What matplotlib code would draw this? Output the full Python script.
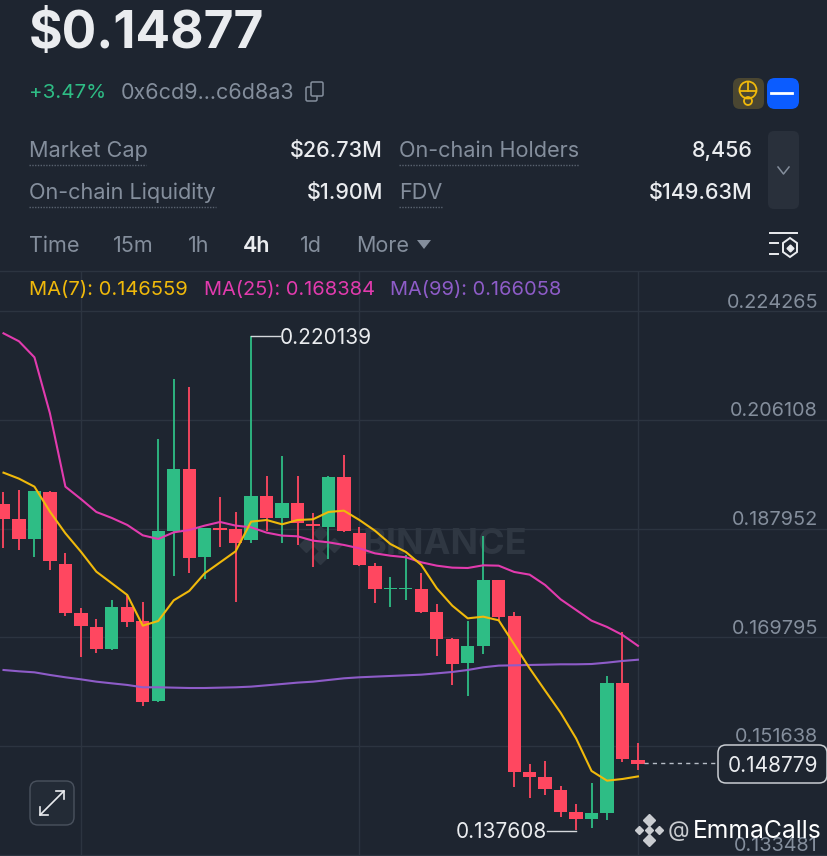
import matplotlib
matplotlib.use("Agg")
import matplotlib.pyplot as plt
from matplotlib.patches import FancyBboxPatch, Rectangle, Circle, Polygon

plt.rcParams['font.family'] = ['Inter', 'DejaVu Sans']

# Candles, oldest first
opens = [0.19202, 0.18952, 0.18617, 0.19403, 0.18205, 0.17381, 0.17153, 0.16785, 0.17487, 0.17253, 0.15916,
         0.18751, 0.19793, 0.18317, 0.18807, 0.18790, 0.18601, 0.19341, 0.18974, 0.19230, 0.18874,
         0.18823, 0.19653, 0.18729, 0.18177, 0.17788, 0.17788, 0.17788, 0.17409, 0.16952, 0.16546,
         0.16830, 0.17943, 0.17336, 0.14724, 0.14641, 0.14429, 0.14062, 0.13939, 0.14039, 0.16223, 0.14936]
closes = [0.18957, 0.18623, 0.19425, 0.18250, 0.17392, 0.17169, 0.16785, 0.17487, 0.17231, 0.15900, 0.18757,
          0.19787, 0.18300, 0.18807, 0.18779, 0.18551, 0.19341, 0.18974, 0.19225, 0.18885, 0.18840,
          0.19653, 0.18757, 0.18189, 0.17788, 0.17810, 0.17810, 0.17409, 0.16952, 0.16540, 0.16830,
          0.17943, 0.17320, 0.14730, 0.14641, 0.14452, 0.14067, 0.13939, 0.14039, 0.16223, 0.14947, 0.14869]
highs = [0.19414, 0.19442, 0.19425, 0.19431, 0.18383, 0.17465, 0.17286, 0.17598, 0.17687, 0.17570, 0.20288,
         0.21296, 0.21157, 0.18807, 0.19319, 0.19080, 0.220139, 0.19676, 0.20015, 0.19676, 0.19052,
         0.19676, 0.20032, 0.18829, 0.18216, 0.17988, 0.18356, 0.18049, 0.17537, 0.16969, 0.17253,
         0.18673, 0.17943, 0.17403, 0.14858, 0.14908, 0.14496, 0.14195, 0.14552, 0.16334, 0.17075, 0.15220]
lows = [0.18473, 0.18439, 0.18317, 0.18105, 0.17336, 0.16657, 0.16713, 0.16774, 0.17158, 0.15833, 0.15894,
        0.17999, 0.18060, 0.17955, 0.18484, 0.17565, 0.18551, 0.18762, 0.18556, 0.18528, 0.18150,
        0.18289, 0.18745, 0.18172, 0.17559, 0.17492, 0.17604, 0.17381, 0.16674, 0.16189, 0.16005,
        0.16696, 0.17270, 0.14485, 0.14296, 0.14346, 0.13973, 0.137608, 0.13789, 0.13934, 0.14903, 0.14763]

ma7 = [0.19731, 0.19631, 0.19497, 0.19080, 0.18718, 0.18411, 0.18077, 0.17882, 0.17687, 0.17175, 0.17253,
       0.17598, 0.17754, 0.18049, 0.18233, 0.18417, 0.18913, 0.18940, 0.18868, 0.18940, 0.18952,
       0.19074, 0.19096, 0.18940, 0.18762, 0.18539, 0.18406, 0.18189, 0.17799, 0.17509, 0.17297,
       0.17325, 0.17264, 0.16863, 0.16462, 0.16089, 0.15721, 0.15292, 0.14747, 0.14585, 0.14613, 0.146559]
ma25 = [0.22059, 0.21926, 0.21658, 0.20723, 0.19497, 0.19291, 0.19074, 0.18974, 0.18857, 0.18684, 0.18623,
        0.18734, 0.18773, 0.18846, 0.18907, 0.18846, 0.18818, 0.18729, 0.18679, 0.18668, 0.18595,
        0.18567, 0.18523, 0.18467, 0.18383, 0.18344, 0.18317, 0.18233, 0.18177, 0.18144, 0.18138,
        0.18183, 0.18177, 0.18072, 0.18027, 0.17854, 0.17615, 0.17437, 0.17258, 0.17153, 0.17019, 0.168384]
ma99 = [0.16434, 0.16412, 0.16395, 0.16351, 0.16312, 0.16278, 0.16239, 0.16211, 0.16184, 0.16145, 0.16145,
        0.16139, 0.16133, 0.16133, 0.16139, 0.16145, 0.16156, 0.16178, 0.16200, 0.16223, 0.16239,
        0.16267, 0.16295, 0.16312, 0.16323, 0.16334, 0.16345, 0.16356, 0.16378, 0.16401, 0.16434,
        0.16479, 0.16507, 0.16512, 0.16518, 0.16523, 0.16529, 0.16529, 0.16534, 0.16557, 0.16585, 0.166058]

price_ticks = [0.224265, 0.206108, 0.187952, 0.169795, 0.151638, 0.133481]
time_grid = [5, 23, 41]
last_price = 0.148779

BG = '#1E2530'
GRID = '#2C3440'
GREEN = '#2EBD85'
RED = '#FF4760'
YELLOW = '#F0B90B'
PINK = '#E23BAE'
PURPLE = '#8E5CC8'
GREY = '#848E9C'
WHITE = '#EAECEF'

fig = plt.figure(figsize=(8.28, 8.56), dpi=100, facecolor=BG)

# chart axes cover the whole figure, limits set so the candles land in place
ax = fig.add_axes([0, 0, 1, 1], facecolor=BG)
ax.set_xlim(-0.226, 53.28)
ax.set_ylim(0.133262, 0.276282)
ax.axis('off')


def price_at(y_px):
    return 0.276282 - y_px * 0.00016708


for p in price_ticks:
    ax.axhline(p, color=GRID, lw=1, zorder=1)
ax.vlines(time_grid, price_at(856), price_at(271), color=GRID, lw=1, zorder=1)

# watermark
wm = '#2F3742'
ax.text(23.2, price_at(544), 'BINANCE', color=wm, fontsize=26, fontweight='bold',
        va='center', ha='left', zorder=2)
for dx, dy in [(0, -12), (0, 12), (-1, 0), (1, 0), (0, 0)]:
    ax.plot(20.45 + dx * 0.9, price_at(545 + dy), marker='D', ms=7, color=wm, zorder=2)

for i in range(len(opens)):
    col = GREEN if closes[i] >= opens[i] else RED
    ax.vlines(i, lows[i], highs[i], color=col, lw=1.3, zorder=3)
    bottom = min(opens[i], closes[i])
    ax.bar(i, abs(closes[i] - opens[i]), bottom=bottom, width=0.86, color=col, lw=0, zorder=4)

xs = list(range(len(ma7)))
ax.plot(xs, ma99, color=PURPLE, lw=1.5, zorder=5)
ax.plot(xs, ma25, color=PINK, lw=1.5, zorder=5)
ax.plot(xs, ma7, color=YELLOW, lw=1.5, zorder=6)

# price labels on the right
for p in price_ticks:
    ax.annotate(f'{p:.6f}', xy=(0.988, p), xycoords=ax.get_yaxis_transform(), xytext=(0, 6.2),
                textcoords='offset points', ha='right', va='center', color=GREY, fontsize=14.3, zorder=7)

# high / low callouts
ax.plot([16, 17.85], [0.220139, 0.220139], color='#D5D8DC', lw=1, zorder=7)
ax.text(17.85, 0.21985, '0.220139', color=WHITE, fontsize=15, va='center', ha='left', zorder=7)
ax.plot([35.15, 37], [0.13750, 0.13750], color='#D5D8DC', lw=1, zorder=7)
ax.text(35.15, 0.13727, '0.137608', color=WHITE, fontsize=15, va='center', ha='right', zorder=7)

# last price dashes
ax.plot([41.4, 46.2], [last_price, last_price], color='#B7BDC6', lw=1, ls=(0, (3, 3)), zorder=7)

# everything around the chart, in pixel coordinates
ui = fig.add_axes([0, 0, 1, 1], facecolor='none')
ui.set_xlim(0, 828)
ui.set_ylim(856, 0)
ui.axis('off')


def box(x, y, w, h, r, fc='none', ec='none', lw=1.0):
    ui.add_patch(FancyBboxPatch((x, y), w, h, boxstyle=f'round,pad=0,rounding_size={r}',
                                fc=fc, ec=ec, lw=lw))


ui.text(29, 34, '$0.14877', color=WHITE, fontsize=37, fontweight='bold', va='center')
ui.text(29, 92.5, '+3.47%', color=GREEN, fontsize=14.8, va='center')
ui.text(121, 92.5, '0x6cd9...c6d8a3', color=GREY, fontsize=15.5, va='center')

# copy icon
box(306, 87, 11, 14, 1.5, ec=GREY, lw=1.1)
box(311, 82, 12, 14, 1.5, fc=BG, ec=GREY, lw=1.1)

# token badges
box(733, 78, 31, 31, 7, fc='#4A4631')
ui.add_patch(Circle((748, 90), 8.5, fc='none', ec=YELLOW, lw=1.3))
ui.plot([740, 756], [91, 91], color=YELLOW, lw=1.3)
ui.plot([748, 748], [82, 91], color=YELLOW, lw=1.3)
ui.add_patch(Circle((748, 101), 4, fc='none', ec=YELLOW, lw=1.3))
box(767, 78, 32, 31, 8, fc='#0B5CFF')
ui.plot([771, 792], [93, 93], color='white', lw=2)

# stats block
labels = [('Market Cap', 29, 150.5, 146, 164.5), ('On-chain Holders', 399, 150.5, 579, 164.5),
          ('On-chain Liquidity', 29, 192.5, 216, 207), ('FDV', 399, 192.5, 442, 207)]
for name, x, y, x2, uy in labels:
    ui.text(x, y, name, color=GREY, fontsize=15.6, va='center')
    ui.plot([x, x2], [uy, uy], color='#5A6370', lw=1, ls=(0, (1, 1)))
values = [('$26.73M', 382, 150.5), ('8,456', 752, 150.5), ('$1.90M', 382, 192.5), ('$149.63M', 752, 192.5)]
for val, x, y in values:
    ui.text(x + 1, y, val, color=WHITE, fontsize=15.5, fontweight='medium', va='center', ha='right')

box(768, 131, 31, 78, 6, fc='#29303B')
ui.plot([778, 783.5, 789], [167, 174, 167], color=GREY, lw=1.1)

# interval tabs
tabs = [('Time', 29, GREY), ('15m', 113, GREY), ('1h', 188, GREY), ('4h', 243, WHITE), ('1d', 300, GREY), ('More', 356, GREY)]
for name, x, col in tabs:
    ui.text(x, 245.5, name, color=col, fontsize=15.5, va='center', fontweight='semibold' if name == '4h' else 'normal')
ui.add_patch(Polygon([[417, 240], [431, 240], [424, 249]], fc=GREY, ec='none'))

# chart settings icon
ui.plot([770, 797], [233, 233], color=WHITE, lw=1.4)
ui.plot([770, 778], [243, 243], color=WHITE, lw=1.4)
ui.plot([770, 778], [254, 254], color=WHITE, lw=1.4)
ui.add_patch(Polygon([[790, 238], [797, 243], [797, 252], [790, 257], [783, 252], [783, 243]],
                     fc='none', ec=WHITE, lw=1.4))
ui.plot(790, 247.5, marker='D', ms=3.5, color=WHITE)

ui.plot([0, 828], [270.5, 270.5], color=GRID, lw=1)

# moving average legend
ui.text(29, 290.5, 'MA(7): 0.146559', color=YELLOW, fontsize=14.5, va='center')
ui.text(204, 290.5, 'MA(25): 0.168384', color=PINK, fontsize=14.4, va='center')
ui.text(390, 290.5, 'MA(99): 0.166058', color=PURPLE, fontsize=14.4, va='center')

# last price box
box(718, 745, 109, 38, 8, fc=BG, ec='#C9CDD2', lw=1.1)
ui.text(773, 765.5, '0.148779', color=WHITE, fontsize=15, va='center', ha='center')

# expand button
box(30, 781, 44, 44, 8, fc='#232B36', ec='#4A525E', lw=1)
ui.plot([40, 64], [815, 791], color=WHITE, lw=1.2)
ui.plot([40, 40, 48], [807, 815, 815], color=WHITE, lw=1.2)
ui.plot([56, 64, 64], [791, 791, 799], color=WHITE, lw=1.2)

# footer credit
logo = '#C9CCD0'
for dx, dy, s in [(0, -10, 6), (0, 10, 6), (-10, 0, 4.5), (10, 0, 4.5), (0, 0, 4)]:
    ui.plot(649 + dx, 830 + dy, marker='D', ms=s, color=logo)
ui.text(668, 831, '@', color='#C9CCD0', fontsize=16, va='center')
ui.text(692.5, 832, 'EmmaCalls', color='white', fontsize=17.8, va='center')

fig.savefig('out.png', dpi=100, facecolor=BG)
